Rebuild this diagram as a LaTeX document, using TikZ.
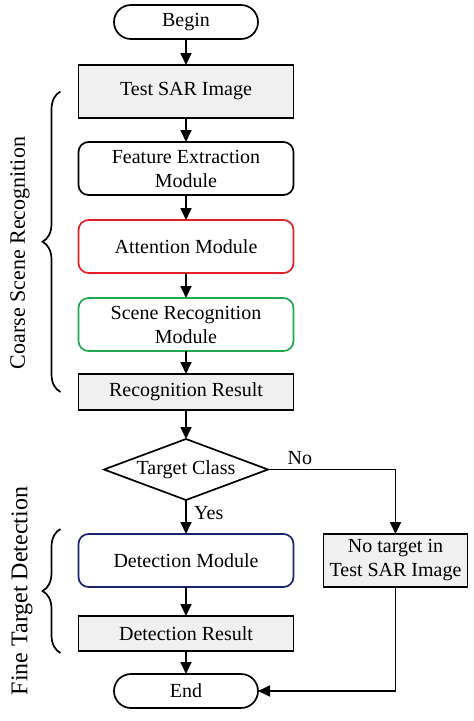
\documentclass[tikz,border=0pt]{standalone}
\usepackage{fontspec}
\setmainfont{Liberation Serif}
\usetikzlibrary{positioning,shapes.geometric,arrows.meta,decorations.pathreplacing}
\definecolor{boxgray}{RGB}{240,240,240}
\definecolor{attred}{RGB}{228,30,38}
\definecolor{scngreen}{RGB}{30,168,80}
\definecolor{detblue}{RGB}{25,35,110}

\begin{document}
\begin{tikzpicture}[x=1pt,y=1pt,
    font=\fontsize{20}{24}\selectfont,
    proc/.style={draw,line width=1.7pt,outer sep=0pt,rounded corners=10pt,minimum width=215pt,
      minimum height=53pt,align=center},
    graybox/.style={draw,line width=1.7pt,outer sep=0pt,fill=boxgray,minimum width=215pt,align=center},
    term/.style={draw,line width=1.7pt,outer sep=0pt,rounded corners=17pt,minimum width=144pt,
      minimum height=34pt},
    decision/.style={draw,diamond,line width=1.7pt,outer sep=0pt,aspect=2.7,inner sep=0pt,
      minimum width=164pt,minimum height=61pt},
    arr/.style={-{Triangle[width=11pt,length=12pt]},line width=1.7pt},
    bracefig/.style={decorate,decoration={brace,amplitude=18pt},line width=1.7pt}]
  \useasboundingbox (0,0) rectangle (474,-721);

  \node[term] (begin) at (186,-22) {Begin};
  \node[graybox,minimum height=53pt,below=26pt of begin] (test) {Test SAR Image};
  \node[proc,below=24pt of test] (feat) {Feature Extraction\\Module};
  \node[proc,draw=attred,below=25pt of feat] (att) {Attention Module};
  \node[proc,draw=scngreen,below=25pt of att] (scene) {Scene Recognition\\Module};
  \node[graybox,minimum height=36pt,below=23pt of scene] (recres) {Recognition Result};
  \node[decision,below=29pt of recres] (cls) {Target Class};
  \node[proc,draw=detblue,below=34pt of cls] (detmod) {Detection Module};
  \node[graybox,minimum height=35pt,below=29pt of detmod] (detres) {Detection Result};
  \node[term,below=23pt of detres] (end) {End};
  \node[graybox,minimum width=144pt,minimum height=53pt,right=30pt of detmod] (notgt)
    {No target in\\Test SAR Image};

  % side braces
  \draw[bracefig] ([xshift=-18pt]recres.west) -- ([xshift=-18pt]test.west);
  \draw[bracefig] ([shift={(-18pt,-2pt)}]detres.south west)
    -- ([shift={(-18pt,5pt)}]detmod.north west);
  \node[rotate=90,font=\fontsize{22}{26}\selectfont] (coarse) at (20,-253)
    {Coarse Scene Recognition};
  \node[rotate=90,font=\fontsize{24}{28}\selectfont] (fine) at (22,-591)
    {Fine Target Detection};

  \path[arr]
    (begin) edge (test)
    (test) edge (feat)
    (feat) edge (att)
    (att) edge (scene)
    (scene) edge (recres)
    (recres) edge (cls)
    (cls) edge node[right=4pt,pos=0.38] (yes) {Yes} (detmod)
    (detmod) edge (detres)
    (detres) edge (end);
  \draw[arr] (cls.east) -| node[above=1pt,pos=0.125] (no) {No} (notgt);
  \draw[arr] (notgt) |- (end);

\end{tikzpicture}
\end{document}
